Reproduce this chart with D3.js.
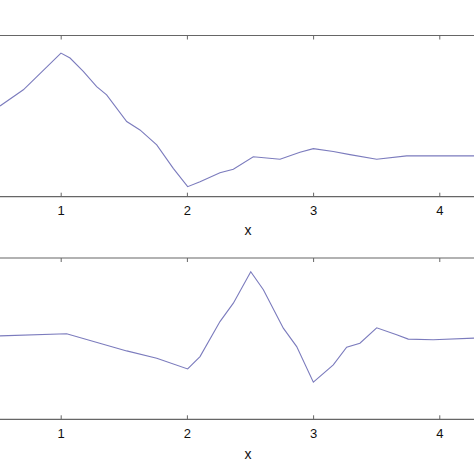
<!DOCTYPE html><html><head><script src="https://cdn.jsdelivr.net/npm/d3@7"></script>
<style>body{margin:0;background:#fff}</style></head><body><svg id="c" width="474" height="474"></svg><script>
const xTicks=[1,2,3,4];
const topX=[0.519,0.704,1.002,1.074,1.179,1.285,1.364,1.523,1.628,1.761,1.892,2.006,2.104,2.262,2.368,2.526,2.738,2.896,3.002,3.16,3.292,3.504,3.741,4.275];
const topY=[0.563,0.663,0.891,0.860,0.777,0.683,0.632,0.466,0.414,0.321,0.176,0.062,0.093,0.149,0.170,0.248,0.232,0.276,0.298,0.280,0.261,0.232,0.253,0.253];
const botX=[0.519,1.047,1.523,1.761,2.006,2.104,2.262,2.368,2.506,2.606,2.764,2.870,3.002,3.16,3.266,3.371,3.504,3.662,3.754,3.952,4.275];
const botY=[0.517,0.530,0.424,0.379,0.312,0.389,0.606,0.720,0.915,0.803,0.565,0.451,0.230,0.337,0.447,0.472,0.567,0.524,0.497,0.493,0.503];
const svg=d3.select("#c");
const x=d3.scaleLinear().domain([0.519,4.275]).range([0,474]);
function panel(top,bot,xs,ys,labY){
  const y=d3.scaleLinear().domain([0,1]).range([bot,top]);
  const g=svg.append("g");
  g.append("line").attr("x1",0).attr("x2",474).attr("y1",top).attr("y2",top).attr("stroke","#666").attr("stroke-width",1.2);
  g.append("line").attr("x1",0).attr("x2",474).attr("y1",bot).attr("y2",bot).attr("stroke","#666").attr("stroke-width",1.2);
  const ax=g.append("g").attr("transform",`translate(0,${bot})`).call(d3.axisBottom(x).tickValues(xTicks).tickFormat(d3.format("d")).tickSizeInner(-4).tickSizeOuter(0).tickPadding(9));
  ax.select(".domain").remove();
  ax.selectAll("line").attr("stroke","#666");
  ax.selectAll("text").attr("font-family","Liberation Sans, Arial").attr("font-size",13).attr("fill","#111");
  const ax2=g.append("g").attr("transform",`translate(0,${top})`).call(d3.axisTop(x).tickValues(xTicks).tickFormat("").tickSizeInner(-4).tickSizeOuter(0));
  ax2.select(".domain").remove(); ax2.selectAll("line").attr("stroke","#666");
  g.append("path").datum(xs.map((v,i)=>[v,ys[i]])).attr("d",d3.line().x(d=>x(d[0])).y(d=>y(d[1])))
   .attr("fill","none").attr("stroke","#7b7bbd").attr("stroke-width",1.1);
  g.append("text").attr("x",248).attr("y",labY).attr("text-anchor","middle").attr("font-family","Liberation Sans, Arial").attr("font-size",14).attr("fill","#111").text("x");
}
panel(35.5,196.7,topX,topY,235);
panel(258,419.3,botX,botY,459);
</script></body></html>
